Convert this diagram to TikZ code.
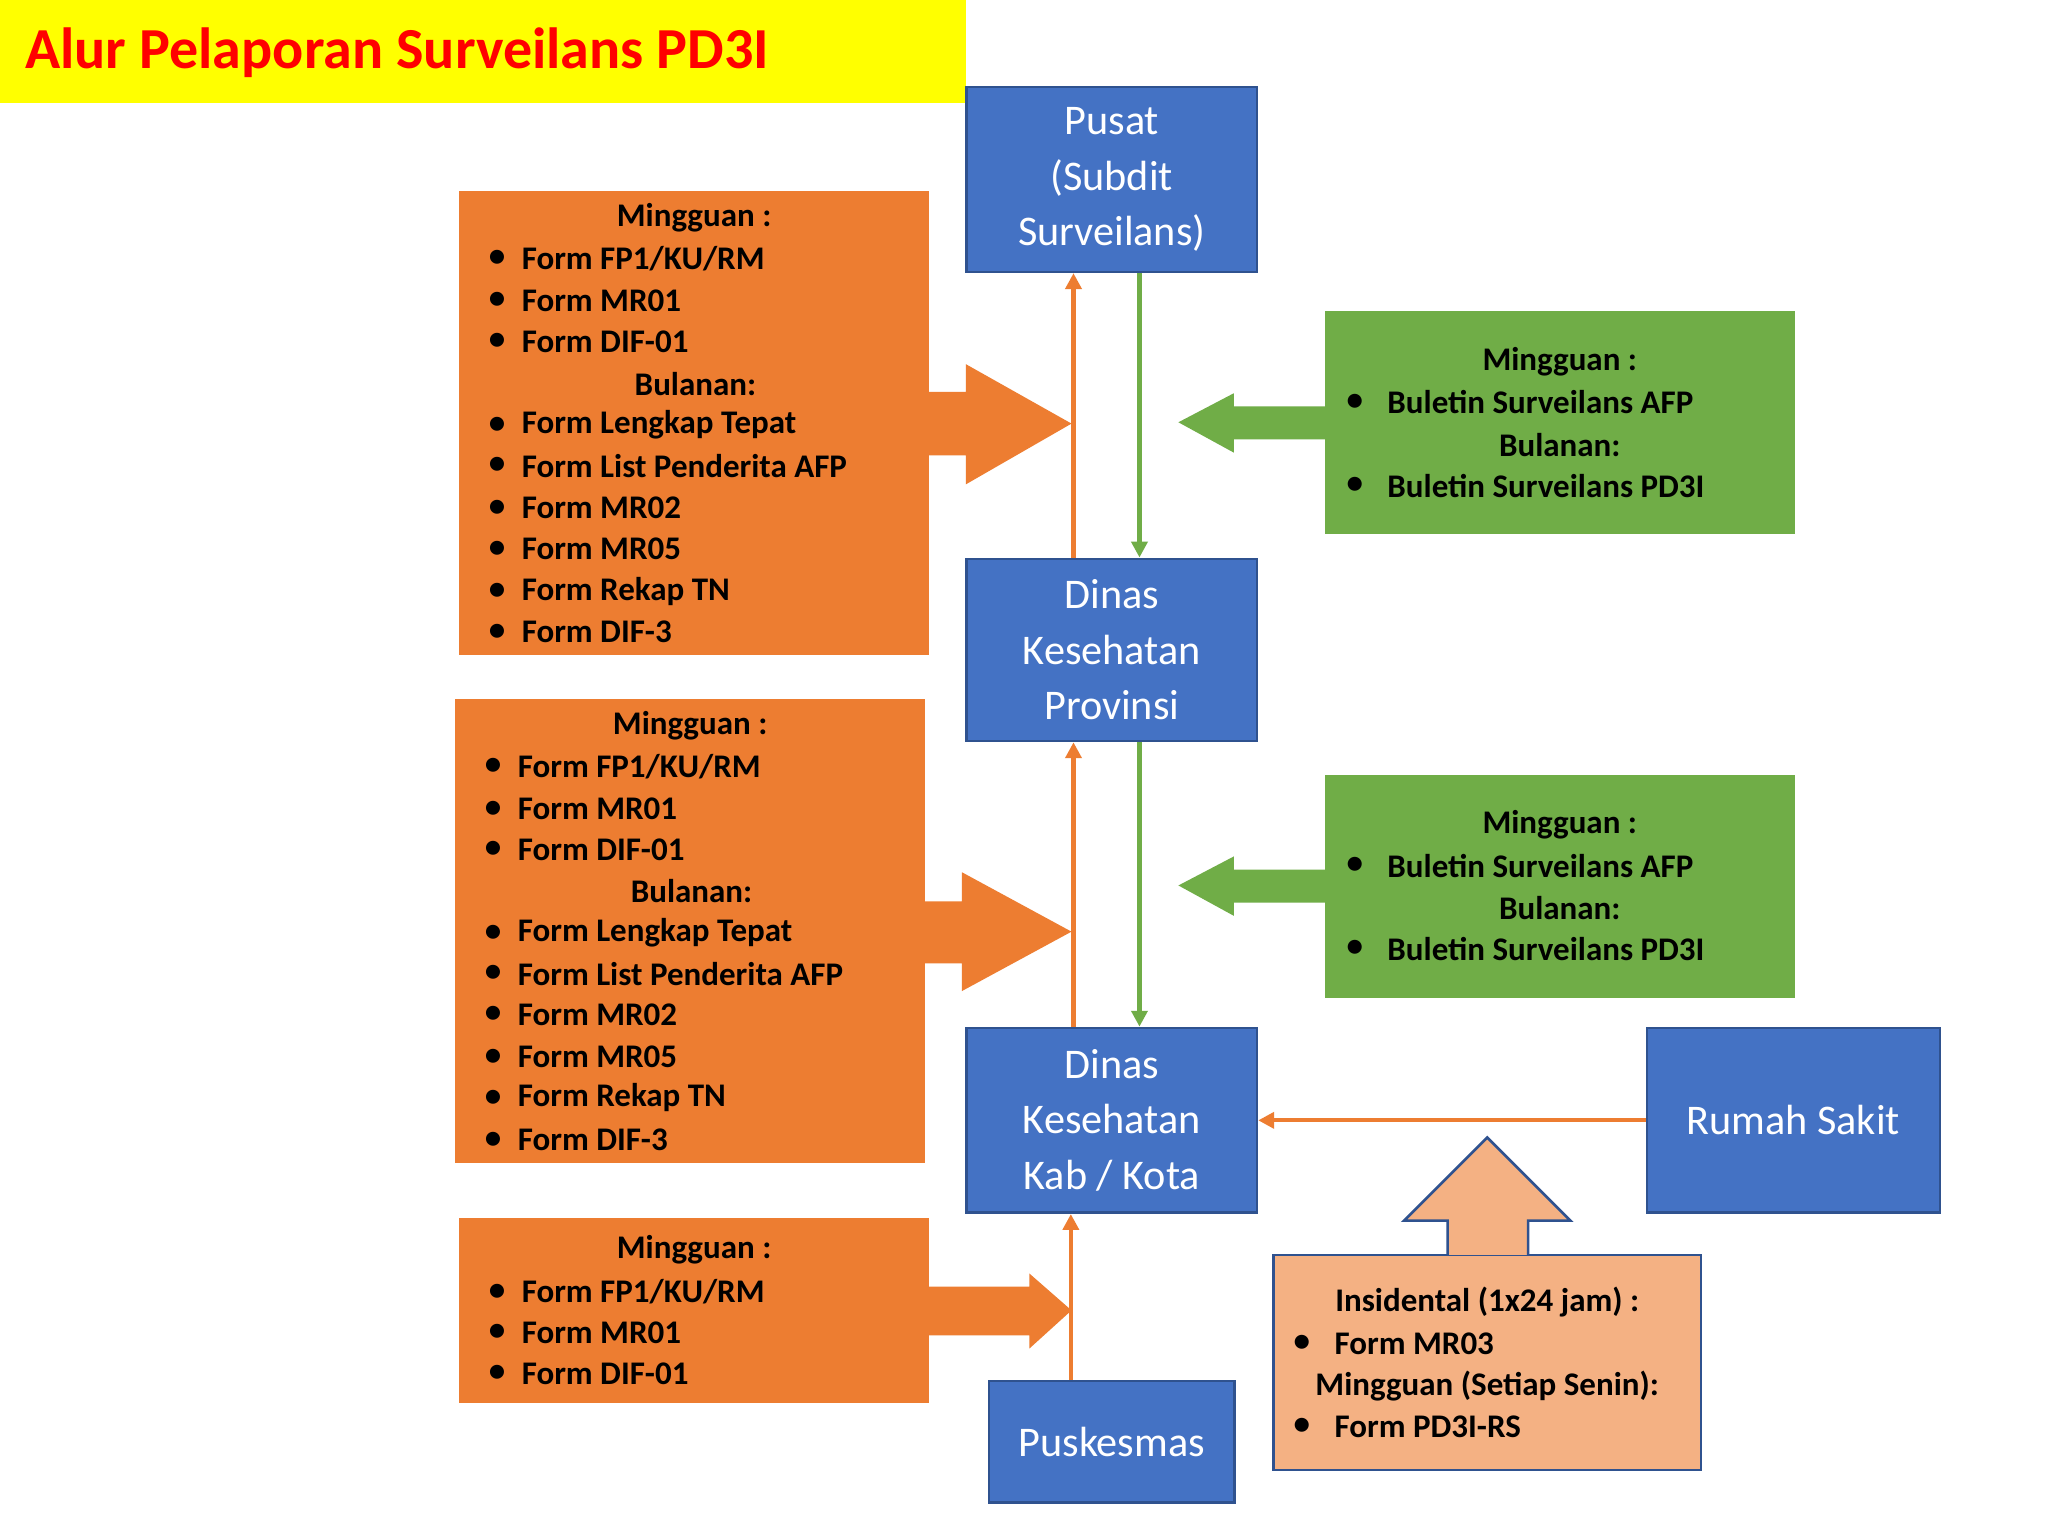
\documentclass[tikz,border=0pt]{standalone}
\usepackage{fontspec}
\setmainfont{Carlito}
\usetikzlibrary{calc,arrows.meta}
\definecolor{bl}{HTML}{4472C4}\definecolor{bld}{HTML}{2F528F}
\definecolor{or}{HTML}{ED7D31}\definecolor{gr}{HTML}{70AD47}
\definecolor{lo}{HTML}{F4B183}\definecolor{ye}{HTML}{FFFF00}
\tikzset{
 bbox/.style={draw=bld,line width=1pt,fill=bl,text=white,font=\fontsize{16}{21}\selectfont,align=center},
 txt/.style={font=\bfseries\fontsize{12.5}{15}\selectfont,inner sep=0pt},
 oarr/.style={draw=or,line width=1.6pt,-{Triangle[length=6pt,width=6pt]}},
 garr/.style={draw=gr,line width=1.6pt,-{Triangle[length=6pt,width=6pt]}},
}
\newcommand\bx[5]{\fill[#1] (#2,#3) rectangle (#4,#5);}
\newcommand\bu[3]{\node[txt,anchor=west] at (370,#2) {•}; \node[txt,anchor=west] at (#1,#2) {#3};}
\newcommand\ce[3]{\node[txt] at (#1,#2) {#3};}
\begin{document}
\begin{tikzpicture}[x=0.5pt,y=-0.5pt]
\useasboundingbox (0,0) rectangle (1552,1164);
\fill[white] (0,0) rectangle (1552,1164);
% title
\fill[ye] (0,0) rectangle (732,78);
\node[anchor=west,text=red,font=\bfseries\fontsize{22}{26}\selectfont] at (12,40) {Alur Pelaporan Surveilans PD3I};
% blue boxes
\node[bbox,minimum width=110pt,minimum height=70pt] (pusat) at (842.5,136) {Pusat\\(Subdit\\Surveilans)};
\node[bbox,minimum width=110pt,minimum height=69pt] (prov) at (842.5,492.5) {Dinas\\Kesehatan\\Provinsi};
\node[bbox,minimum width=110pt,minimum height=70pt] (kab) at (842.5,849) {Dinas\\Kesehatan\\Kab / Kota};
\node[bbox,minimum width=111pt,minimum height=70pt] (rs) at (1359,849) {Rumah Sakit};
\node[bbox,minimum width=93pt,minimum height=46pt] (pkm) at (842.5,1092.5) {Puskesmas};
% orange boxes and block arrows
\bx{or}{348}{145}{704}{496}
\bx{or}{345}{530}{701}{881}
\bx{or}{348}{923}{704}{1063}
\fill[or] (700,297) -- (732,297) -- (732,276) -- (812,321) -- (732,367) -- (732,345) -- (700,345) -- cycle;
\fill[or] (697,683) -- (729,683) -- (729,661) -- (812,706) -- (729,751) -- (729,730) -- (697,730) -- cycle;
\fill[or] (700,975) -- (780,975) -- (780,965) -- (812,993) -- (780,1022) -- (780,1012) -- (700,1012) -- cycle;
% green boxes and arrows
\bx{gr}{1004}{236}{1360}{405}
\bx{gr}{1004}{587}{1360}{756}
\fill[gr] (1006,308) -- (935,308) -- (935,298) -- (893,320) -- (935,343) -- (935,333) -- (1006,333) -- cycle;
\fill[gr] (1006,659) -- (935,659) -- (935,649) -- (893,671) -- (935,694) -- (935,684) -- (1006,684) -- cycle;
% light orange box and arrow
\draw[bld,line width=1pt,fill=lo] (965,951) rectangle (1289,1114);
\draw[bld,line width=1pt,fill=lo] (1097,951) -- (1097,925) -- (1064,925) -- (1127,862) -- (1190,925) -- (1158,925) -- (1158,951);
% thin connectors
\draw[oarr] ($(prov.north)+(-29,0)$) -- ($(pusat.south)+(-29,0)$);
\draw[garr] ($(pusat.south)+(21,0)$) -- ($(prov.north)+(21,0)$);
\draw[oarr] ($(kab.north)+(-29,0)$) -- ($(prov.south)+(-29,0)$);
\draw[garr] ($(prov.south)+(21,0)$) -- ($(kab.north)+(21,0)$);
\draw[oarr] ($(pkm.north)+(-31,0)$) -- ($(kab.south)+(-31,0)$);
\draw[oarr] (rs.west) -- (kab.east);
% texts box1
\ce{526}{165}{Mingguan :}
\bu{395}{196}{Form FP1/KU/RM}
\bu{395}{228}{Form MR01}
\bu{395}{259}{Form DIF-01}
\ce{527}{291}{Bulanan:}
\bu{395}{322}{Form Lengkap Tepat}
\bu{395}{353}{Form List Penderita AFP}
\bu{395}{385}{Form MR02}
\bu{395}{416}{Form MR05}
\bu{395}{448}{Form Rekap TN}
\bu{395}{479}{Form DIF-3}
% box2
\begin{scope}[xshift=-1.5pt]
\ce{526}{550}{Mingguan :}
\bu{395}{581}{Form FP1/KU/RM}
\bu{395}{613}{Form MR01}
\bu{395}{644}{Form DIF-01}
\ce{527}{675}{Bulanan:}
\bu{395}{707}{Form Lengkap Tepat}
\bu{395}{738}{Form List Penderita AFP}
\bu{395}{769}{Form MR02}
\bu{395}{801}{Form MR05}
\bu{395}{832}{Form Rekap TN}
\bu{395}{864}{Form DIF-3}
\end{scope}
% box3
\ce{526}{947}{Mingguan :}
\bu{395}{979}{Form FP1/KU/RM}
\bu{395}{1010}{Form MR01}
\bu{395}{1041}{Form DIF-01}
% green texts
\ce{1182}{274}{Mingguan :}
\node[txt,anchor=west] at (1020,305) {•}; \node[txt,anchor=west] at (1051,305) {Buletin Surveilans AFP};
\ce{1182}{337}{Bulanan:}
\node[txt,anchor=west] at (1020,368) {•}; \node[txt,anchor=west] at (1051,368) {Buletin Surveilans PD3I};
\ce{1182}{625}{Mingguan :}
\node[txt,anchor=west] at (1020,656) {•}; \node[txt,anchor=west] at (1051,656) {Buletin Surveilans AFP};
\ce{1182}{688}{Bulanan:}
\node[txt,anchor=west] at (1020,719) {•}; \node[txt,anchor=west] at (1051,719) {Buletin Surveilans PD3I};
% light orange texts
\ce{1127}{987}{Insidental (1x24 jam) :}
\node[txt,anchor=west] at (980,1018) {•}; \node[txt,anchor=west] at (1011,1018) {Form MR03};
\ce{1127}{1050}{Mingguan (Setiap Senin):}
\node[txt,anchor=west] at (980,1081) {•}; \node[txt,anchor=west] at (1011,1081) {Form PD3I-RS};
\end{tikzpicture}
\end{document}
